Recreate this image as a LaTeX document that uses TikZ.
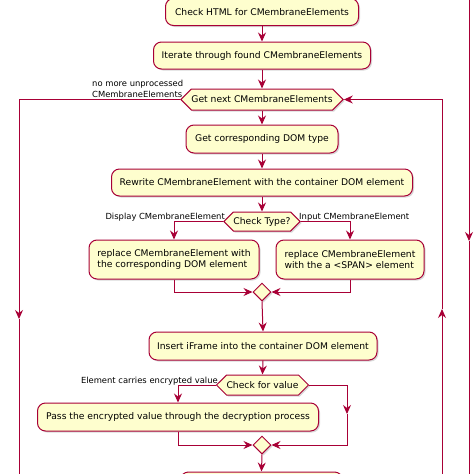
\documentclass[tikz,border=0pt]{standalone}
\usepackage{fontspec}
\setmainfont{DejaVu Sans}
\usetikzlibrary{shapes.geometric, shapes.symbols, arrows.meta, shadows}
\definecolor{umlred}{HTML}{A80036}
\definecolor{umlfill}{HTML}{FEFECE}

\begin{document}
\begin{tikzpicture}[
  x=1pt, y=-1pt,
  umlshadow/.style={drop shadow={shadow xshift=1.5pt, shadow yshift=-1.5pt, opacity=0.3}},
  action/.style={rectangle, rounded corners=8pt, draw=umlred, fill=umlfill, line width=1pt,
    inner sep=0pt, align=center, font=\fontsize{9.2}{11.5}\selectfont, umlshadow},
  choice/.style={signal, signal to=east and west, draw=umlred, fill=umlfill, line width=1pt,
    inner sep=0pt, font=\fontsize{9.2}{11}\selectfont, umlshadow},
  merge/.style={diamond, aspect=1, minimum size=18pt, inner sep=0pt, draw=umlred, fill=umlfill,
    line width=1pt, umlshadow},
  guard/.style={inner sep=0pt, align=left, font=\fontsize{8.4}{11.5}\selectfont},
  wire/.style={draw=umlred, line width=1pt},
  flow/.style={wire, -{Stealth[length=9pt, width=8pt, inset=3pt]}}
]
\useasboundingbox (0,0) rectangle (474,474);
\clip (0,0) rectangle (474,474);

% Main column
\node[action, minimum width=193pt, minimum height=27pt] (check) at (262,12) {Check HTML for CMembraneElements};
\node[action, minimum width=217pt, minimum height=27pt] (iterate) at (262,55.5) {Iterate through found CMembraneElements};
\node[choice, minimum width=143pt, minimum height=21pt] (getnext) at (262,99.5) {Get next CMembraneElements};
\node[action, minimum width=152pt, minimum height=28pt] (getdom) at (262,139) {Get corresponding DOM type};
\node[action, minimum width=301pt, minimum height=27pt] (rewrite) at (262,182.5) {Rewrite CMembraneElement with the container DOM element};

% Type branches
\node[choice, minimum width=72pt, minimum height=19pt] (checktype) at (262,221.5) {Check Type?};
\node[action, align=left, minimum width=170pt, minimum height=39pt] (display) at (174,259.5) {replace CMembraneElement with\\the corresponding DOM element};
\node[action, align=left, minimum width=148pt, minimum height=39pt] (input) at (350,259.5) {replace CMembraneElement\\with the a <SPAN> element};
\node[merge] (mergetype) at (262,292) {};

% Value branches
\node[action, minimum width=228pt, minimum height=28pt] (insert) at (263,346) {Insert iFrame into the container DOM element};
\node[choice, minimum width=87pt, minimum height=20pt] (checkval) at (262.5,385) {Check for value};
\node[action, minimum width=281pt, minimum height=28pt] (decrypt) at (178,417) {Pass the encrypted value through the decryption process};
\node[merge] (mergeval) at (262,445) {};
\node[action, minimum width=162pt, minimum height=28pt] (nextstep) at (261.5,486) {};

% Guards
\node[guard, anchor=west] (nomore) at (92,89) {no more unprocessed\\CMembraneElements};
\node[guard, anchor=east] (dispguard) at (225,217.5) {Display CMembraneElement};
\node[guard, anchor=west] (inguard) at (299,217.5) {Input CMembraneElement};
\node[guard, anchor=east] (encguard) at (218,381) {Element carries encrypted value};

% Loop corners
\coordinate (leftarr) at (19,319);
\coordinate (leftend) at (19,474);
\coordinate (rightend) at (442,474);
\coordinate (rightarr) at (442,309);
\coordinate (fartop) at (469,0);
\coordinate (fararr) at (469,241);
\coordinate (farend) at (469,474);
\coordinate (valarr) at (347,414);

% Edges
\draw[flow] (check.south) -- (iterate.north);
\draw[flow] (iterate.south) -- (getnext.north);
\draw[flow] (getnext.south) -- (getdom.north);
\draw[flow] (getdom.south) -- (rewrite.north);
\draw[flow] (rewrite.south) -- (checktype.north);
\draw[flow] (checktype.west) -| (display.north);
\draw[flow] (checktype.east) -| (input.north);
\draw[flow] (display.south) |- (mergetype.west);
\draw[flow] (input.south) |- (mergetype.east);
\draw[flow] (mergetype.south) -- (insert.north);
\draw[flow] (insert.south) -- (checkval.north);
\draw[flow] (checkval.west) -| (decrypt.north);
\draw[flow] (checkval.east) -| (valarr);
\draw[flow] (valarr) |- (mergeval.east);
\draw[flow] (decrypt.south) |- (mergeval.west);
\draw[flow] (mergeval.south) -- (nextstep.north);

% Loops
\draw[flow] (getnext.west) -| (leftarr);
\draw[wire] (leftarr) -- (leftend);
\draw[flow] (rightend) -- (rightarr);
\draw[flow] (rightarr) |- (getnext.east);
\draw[flow] (fartop) -- (fararr);
\draw[wire] (fararr) -- (farend);

\end{tikzpicture}
\end{document}
